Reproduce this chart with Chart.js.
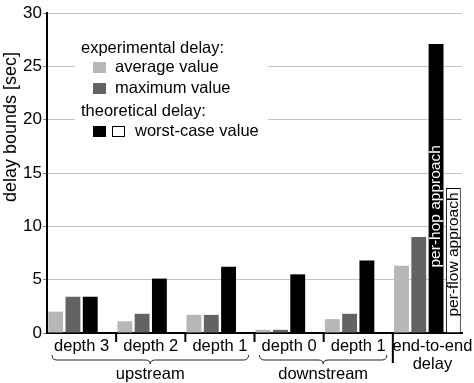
<!DOCTYPE html>
<html>
<head>
<meta charset="utf-8">
<script src="https://cdn.jsdelivr.net/npm/chart.js@4.4.1/dist/chart.umd.min.js"></script>
<style>
  html, body { margin: 0; padding: 0; background: #fff; }
  #wrap { width: 474px; height: 383px; }
</style>
</head>
<body>
<div id="wrap"><canvas id="c" width="474" height="383"></canvas></div>
<script>
// ---- data ----
const categories = ['depth 3', 'depth 2', 'depth 1', 'depth 0', 'depth 1', ['end-to-end', 'delay']];
const averageValue = [2.0, 1.1, 1.7, 0.3, 1.3, 6.3];
const maximumValue = [3.4, 1.8, 1.7, 0.3, 1.8, 9.0];
const worstCasePerHop = [3.4, 5.1, 6.2, 5.5, 6.8, 27.1];
const worstCasePerFlow = [null, null, null, null, null, 13.6];
const yTicks = [0, 5, 10, 15, 20, 25, 30];
const groups = [
  { label: 'upstream', from: 0, to: 2 },
  { label: 'downstream', from: 3, to: 4 }
];
const yTitle = 'delay bounds [sec]';
const legendTitles = ['experimental delay:', 'theoretical delay:'];
const legendItems = ['average value', 'maximum value', 'worst-case value'];
const barLabels = ['per-hop approach', 'per-flow approach'];

const FONT = '"Liberation Sans", Arial, Helvetica, sans-serif';
const C_AVG = '#b7b7b7', C_MAX = '#636363', C_HOP = '#000000', C_FLOW = '#ffffff';

const decor = {
  id: 'decor',
  beforeDatasetsDraw(chart) {
    const ctx = chart.ctx;
    // legend box (white, hides grid lines)
    ctx.save();
    ctx.fillStyle = '#fff';
    ctx.fillRect(75, 38, 193, 106);
    ctx.fillStyle = '#000';
    ctx.font = '16.5px ' + FONT;
    ctx.textBaseline = 'middle';
    ctx.textAlign = 'left';
    ctx.fillText(legendTitles[0], 81, 48);
    ctx.fillStyle = C_AVG; ctx.fillRect(93, 62, 13, 11);
    ctx.fillStyle = C_MAX; ctx.fillRect(93, 83, 13, 11);
    ctx.fillStyle = '#000';
    ctx.fillText(legendItems[0], 115, 67);
    ctx.fillText(legendItems[1], 115, 88);
    ctx.fillText(legendTitles[1], 81, 111);
    ctx.fillStyle = C_HOP; ctx.fillRect(93, 126, 13, 11);
    ctx.strokeStyle = '#000'; ctx.lineWidth = 1;
    ctx.strokeRect(112.5, 126.5, 12, 10);
    ctx.fillText(legendItems[2], 135, 131);
    ctx.restore();
  },
  afterDraw(chart) {
    const ctx = chart.ctx;
    const xs = chart.scales.x;
    const area = chart.chartArea;
    const n = categories.length;
    const w = (xs.getPixelForValue(1) - xs.getPixelForValue(0));
    ctx.save();
    // y title
    ctx.fillStyle = '#000';
    ctx.font = '18px ' + FONT;
    ctx.translate(11, 127);
    ctx.rotate(-Math.PI / 2);
    ctx.textAlign = 'center';
    ctx.textBaseline = 'middle';
    ctx.fillText(yTitle, 0, 0);
    ctx.restore();

    // last category label (shifted right of the separator, as in the original)
    ctx.save();
    ctx.fillStyle = '#000';
    ctx.font = '16.5px ' + FONT;
    ctx.textAlign = 'center';
    ctx.textBaseline = 'middle';
    const lastLbl = categories[n - 1];
    const lx = xs.getPixelForValue(n - 1) + 5;
    lastLbl.forEach((t, k) => ctx.fillText(t, lx, area.bottom + 13 + k * 18));
    ctx.restore();

    // category separator ticks
    ctx.save();
    ctx.strokeStyle = '#000';
    ctx.lineWidth = 2;
    for (let i = 1; i < n; i++) {
      const bx = xs.getPixelForValue(i) - w / 2;
      ctx.beginPath();
      ctx.moveTo(bx, area.bottom);
      ctx.lineTo(bx, i === n - 1 ? area.bottom + 30 : area.bottom + 9);
      ctx.stroke();
    }
    ctx.restore();

    // braces
    ctx.save();
    ctx.strokeStyle = '#222';
    ctx.lineWidth = 1;
    ctx.fillStyle = '#000';
    ctx.font = '16.5px ' + FONT;
    ctx.textAlign = 'center';
    ctx.textBaseline = 'middle';
    groups.forEach(g => {
      const x1 = xs.getPixelForValue(g.from) - w / 2 + 5;
      const x2 = xs.getPixelForValue(g.to) + w / 2 - 6;
      const cx = (x1 + x2) / 2;
      const y0 = 355, y1 = 360, y2 = 364, r = 5;
      ctx.beginPath();
      ctx.moveTo(x1, y0);
      ctx.quadraticCurveTo(x1, y1, x1 + r, y1);
      ctx.lineTo(cx - r, y1);
      ctx.quadraticCurveTo(cx, y1, cx, y2);
      ctx.quadraticCurveTo(cx, y1, cx + r, y1);
      ctx.lineTo(x2 - r, y1);
      ctx.quadraticCurveTo(x2, y1, x2, y0);
      ctx.stroke();
      ctx.fillText(g.label, cx, 374);
    });
    ctx.restore();

    // rotated labels inside last bars
    const hop = chart.getDatasetMeta(2).data[n - 1];
    const flow = chart.getDatasetMeta(3).data[n - 1];
    ctx.save();
    ctx.font = '15.5px ' + FONT;
    ctx.textBaseline = 'middle';
    ctx.fillStyle = '#fff';
    ctx.translate(hop.x, hop.base - 65);
    ctx.rotate(-Math.PI / 2);
    ctx.textAlign = 'left';
    ctx.fillText(barLabels[0], 0, 0);
    ctx.restore();
    ctx.save();
    ctx.font = '15.5px ' + FONT;
    ctx.textBaseline = 'middle';
    ctx.fillStyle = '#000';
    ctx.translate(flow.x, flow.base - 16);
    ctx.rotate(-Math.PI / 2);
    ctx.textAlign = 'left';
    ctx.fillText(barLabels[1], 0, 0);
    ctx.restore();
  }
};

new Chart(document.getElementById('c'), {
  type: 'bar',
  data: {
    labels: categories,
    datasets: [
      { label: 'average value', data: averageValue, backgroundColor: C_AVG },
      { label: 'maximum value', data: maximumValue, backgroundColor: C_MAX },
      { label: 'worst-case value (per-hop)', data: worstCasePerHop, backgroundColor: C_HOP },
      { label: 'worst-case value (per-flow)', data: worstCasePerFlow, backgroundColor: C_FLOW, borderColor: '#000', borderWidth: 1 }
    ]
  },
  options: {
    responsive: false,
    animation: false,
    devicePixelRatio: 1,
    layout: { padding: { top: 13, right: 12, left: 0, bottom: 0 } },
    datasets: { bar: { categoryPercentage: 1.0, barPercentage: 0.86 } },
    plugins: { legend: { display: false }, tooltip: { enabled: false } },
    scales: {
      x: {
        grid: { display: false, drawTicks: false },
        border: { display: true, color: '#000', width: 2 },
        ticks: {
          color: '#000', font: { family: FONT, size: 16.5, lineHeight: 1.1 },
          padding: 4, maxRotation: 0, autoSkip: false,
          callback(v, i) { return i === categories.length - 1 ? '' : categories[i]; }
        },
        afterFit(s) { s.height = 50; }
      },
      y: {
        min: 0, max: 30,
        afterBuildTicks(s) { s.ticks = yTicks.map(v => ({ value: v })); },
        grid: { color: '#c4c4c4', lineWidth: 1, tickLength: 4, tickColor: '#888' },
        border: { display: true, color: '#000', width: 2 },
        ticks: { color: '#000', font: { family: FONT, size: 17 }, padding: 1 },
        afterFit(s) { s.width = 47; }
      }
    }
  },
  plugins: [decor]
});
</script>
</body>
</html>
